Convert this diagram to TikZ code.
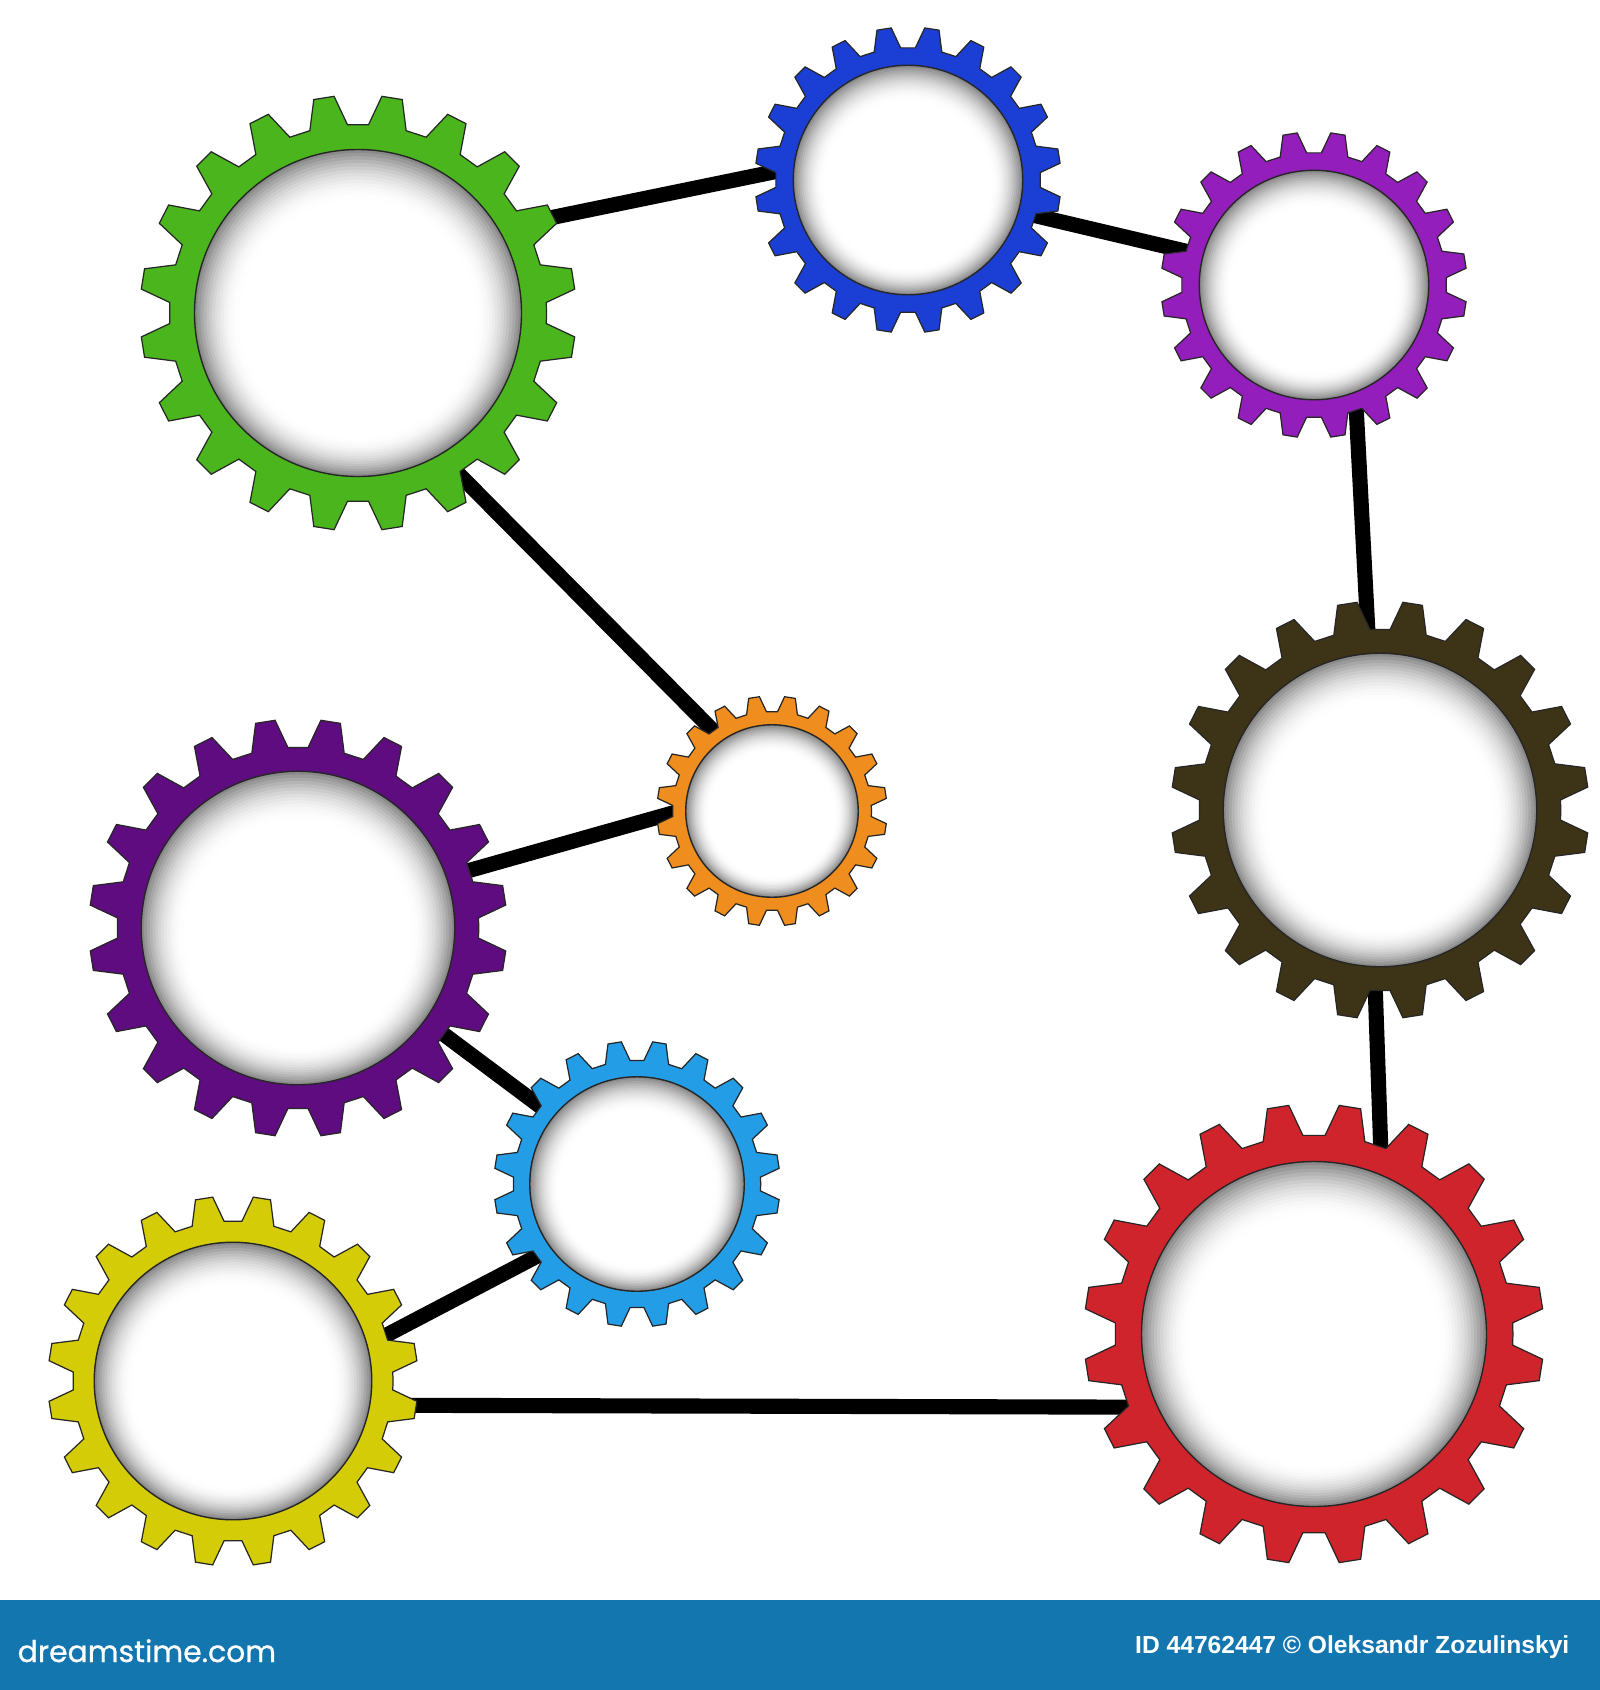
\documentclass[tikz,border=0pt]{standalone}
\usepackage{fontspec}
\usepackage{tikz}
\usetikzlibrary{calc}
\newfontfamily\logofont[FakeBold=0.8]{Poppins}
\newfontfamily\creditfont{Liberation Sans}

\definecolor{cVert}{RGB}{74,181,29}
\definecolor{cBleu}{RGB}{27,63,212}
\definecolor{cViolet}{RGB}{148,30,188}
\definecolor{cBrun}{RGB}{61,51,22}
\definecolor{cRouge}{RGB}{208,36,44}
\definecolor{cOrange}{RGB}{239,142,30}
\definecolor{cPourpre}{RGB}{94,12,128}
\definecolor{cCiel}{RGB}{35,158,230}
\definecolor{cJaune}{RGB}{213,204,8}
\definecolor{cBandeau}{RGB}{20,118,175}

\pgfdeclarelayer{blanc}
\pgfdeclarelayer{fond}
\pgfsetlayers{blanc,fond,main}

\tikzstyle{liaison}         =[line width=4.3pt, line cap=butt, black]
\tikzstyle{corps}           =[draw=black!85, line width=0.35pt, line join=miter]
\tikzstyle{trou}            =[circle, draw=black!85, line width=0.4pt, inner sep=0pt]

\begin{document}
\begin{tikzpicture}[x=0.01cm,y=-0.01cm]

\useasboundingbox (0,0) rectangle (1600,1690);
\begin{pgfonlayer}{blanc}
\fill[white] (0,0) rectangle (1600,1690);
\end{pgfonlayer}

%%%%%%%%%%%%%%%%%%%%%%%%
%%%%%%%%%%%%%%%%%%%%%%%%
%Tracé des roues dentées
%nom / centre x / centre y / rayon des dents / couleur
%%%%%%%%%%%%%%%%%%%%%%%%
%%%%%%%%%%%%%%%%%%%%%%%%

\foreach \nom/\cx/\cy/\rt/\coul in {vert/358/313/218/cVert, bleu/908/180/153/cBleu,
    violet/1314/285/153/cViolet, brun/1380/810/209/cBrun, rouge/1314/1334/230/cRouge,
    orange/772/811/115/cOrange, pourpre/298/928/209/cPourpre, ciel/637/1184/143/cCiel,
    jaune/233/1381/185/cJaune}{
  \pgfmathsetmacro\rr{0.865*\rt} %rayon au pied des dents
  \pgfmathsetmacro\rh{0.75*\rt} %rayon du trou blanc
  \begin{scope}[shift={(\cx,\cy)}]
    %20 dents trapézoïdales
    \filldraw[corps, fill=\coul] (0:\rr) \foreach \i in {0,...,19}{
      -- ({18*\i+3.2}:\rr) -- ({18*\i+6.3}:\rt) -- ({18*\i+11.7}:\rt) -- ({18*\i+14.8}:\rr)} -- cycle;
    %ombre dans le trou : cercles de plus en plus clairs
    \foreach \k in {0,...,15}{
      \pgfmathsetmacro\niv{46*(1-\k/15)^2}
      \fill[black!\niv] (0,{0.0025*\k*\rh}) circle ({\rh*(1-0.018*\k)});
    }
  \end{scope}
  \node[trou, minimum size=2*\rh*0.01cm] (\nom) at (\cx,\cy) {};
}

%%%%%%%%%%%%%%%%%%%%%%%%
%%%%%%%%%%%%%%%%%%%%%%%%
%Liaisons (sous les roues)
%%%%%%%%%%%%%%%%%%%%%%%%
%%%%%%%%%%%%%%%%%%%%%%%%

\begin{pgfonlayer}{fond}
\draw[liaison] (vert.31) -- (bleu.174);
\draw[liaison] (bleu.-16) -- (violet.165);
\draw[liaison] (violet.-69) -- (brun.94);
\draw[liaison] (brun.-92) -- (rouge.67);
\draw[liaison] (rouge.205) -- (jaune.-10);
\draw[liaison] (jaune.15) -- (ciel.217);
\draw[liaison] (pourpre.-36) -- (ciel.141);
\draw[liaison] (pourpre.19) -- (orange.179);
\draw[liaison] (vert.-60) -- (orange.125);
\end{pgfonlayer}

%bandeau du bas
\fill[cBandeau] (0,1600) rectangle (1600,1690);
\node[anchor=base west, text=white, inner sep=0pt, font=\logofont\fontsize{8.5}{10}\selectfont] (logo) at (17,1662) {dreamstime.com};
\node[anchor=base east, text=white, inner sep=0pt, font=\creditfont\bfseries\fontsize{7}{8}\selectfont] (credit) at (1570,1653) {ID 44762447 © Oleksandr Zozulinskyi};

\end{tikzpicture}
\end{document}
